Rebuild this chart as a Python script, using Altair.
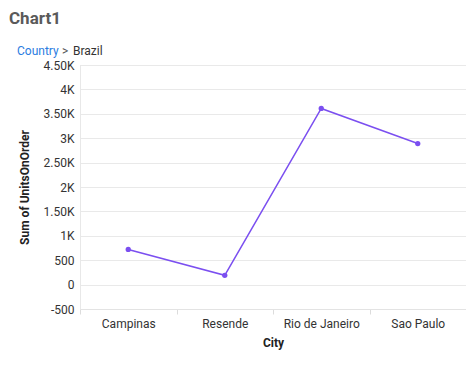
import altair as alt
import pandas as pd

cities = ["Campinas", "Resende", "Rio de Janeiro", "Sao Paulo"]
units_on_order = [720, 190, 3610, 2890]
y_ticks = [-500, 0, 500, 1000, 1500, 2000, 2500, 3000, 3500, 4000, 4500]
y_tick_labels = ["-500", "0", "500", "1K", "1.50K", "2K", "2.50K", "3K", "3.50K", "4K", "4.50K"]

chart_title = ["Chart1"]
crumb_link = ["Country"]
crumb_sep = [">"]
crumb_item = ["Brazil"]

df = pd.DataFrame({"City": cities, "Units": units_on_order})

FONT = "Roboto"

label_expr = "".join(
    f"datum.value == {v} ? '{lab}' : " for v, lab in zip(y_ticks, y_tick_labels)
) + "''"

base = alt.Chart(df).encode(
    x=alt.X(
        "City:N",
        sort=cities,
        title="City",
        scale=alt.Scale(paddingInner=0, paddingOuter=0),
        axis=alt.Axis(
            tickBand="extent",
            labelAngle=0,
            labelFont=FONT,
            labelFontSize=12,
            labelColor="#333333",
            labelPadding=4,
            tickColor="#dcdcdc",
            tickSize=5,
            domainColor="#e3e3e3",
            titleFont=FONT,
            titleFontSize=12,
            titleFontWeight="bold",
            titleColor="#222222",
            titlePadding=8,
            grid=False,
        ),
    ),
    y=alt.Y(
        "Units:Q",
        title="Sum of UnitsOnOrder",
        scale=alt.Scale(domain=[-500, 4500], nice=False, zero=False),
        axis=alt.Axis(
            values=y_ticks,
            labelExpr=label_expr,
            labelFont=FONT,
            labelFontSize=12,
            labelColor="#333333",
            labelPadding=6,
            ticks=False,
            domainColor="#e8e8e8",
            gridColor="#e9e9e9",
            titleFont=FONT,
            titleFontSize=12,
            titleFontWeight="bold",
            titleColor="#222222",
            titlePadding=12,
        ),
    ),
)

line = base.mark_line(color="#7b4ff0", strokeWidth=1.5)
points = base.mark_point(filled=True, color="#7b4ff0", size=28, opacity=1)

title_txt = alt.Chart(pd.DataFrame({"t": chart_title})).mark_text(
    align="left", baseline="alphabetic", font=FONT, fontSize=17,
    fontWeight="bold", color="#5a5a5a"
).encode(text="t:N", x=alt.value(-71), y=alt.value(-41))

link_txt = alt.Chart(pd.DataFrame({"t": crumb_link})).mark_text(
    align="left", baseline="alphabetic", font=FONT, fontSize=12, color="#2a7de1"
).encode(text="t:N", x=alt.value(-63), y=alt.value(-10))

sep_txt = alt.Chart(pd.DataFrame({"t": crumb_sep})).mark_text(
    align="left", baseline="alphabetic", font=FONT, fontSize=12, color="#555555"
).encode(text="t:N", x=alt.value(-18), y=alt.value(-10))

item_txt = alt.Chart(pd.DataFrame({"t": crumb_item})).mark_text(
    align="left", baseline="alphabetic", font=FONT, fontSize=12, color="#333333"
).encode(text="t:N", x=alt.value(-7), y=alt.value(-10))

chart = (
    alt.layer(line, points, title_txt, link_txt, sep_txt, item_txt)
    .properties(
        width=386,
        height=244,
        autosize=alt.AutoSizeParams(type="none"),
        padding={"left": 72, "top": 57, "right": 0, "bottom": 55},
    )
    .configure_view(stroke="#f0f0f0")
    .configure(background="white")
)

chart.save("out.html", embed_options={"renderer": "svg", "actions": False})
